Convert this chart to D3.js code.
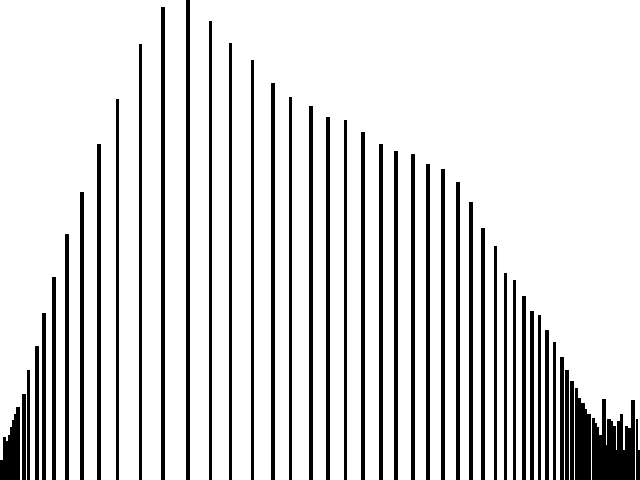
<!DOCTYPE html>
<html>
<head>
<meta charset="utf-8">
<script src="https://cdn.jsdelivr.net/npm/d3@7"></script>
<style>
html,body{margin:0;padding:0;background:#fff;overflow:hidden;}
svg{display:block;}
</style>
</head>
<body>
<svg id="chart" width="640" height="480"></svg>
<script>
// bar start positions (x units)
const positions = [0,3,6,8,10,12,14,16,22,26.5,35,42,52,65,80,97,115.5,138.5,161,186,208.5,228.5,250.5,271,288.5,309,326,343.5,361,379,394,411,426,441,456,469,481,493.5,503.5,512.5,522,530,537.5,545,552.5,560,565,570,575,578,581,585,587,592,595,597,599,602,606,607,611,613,616,617,620,623,625,628,631,636,638];
// bar values
const values = [20,43,39,45,53,60,66,73,86,110,134,167,203,246,288,336,381,436,473,480,459,437,420,397,383,374,363,360,348,336,329,326,316,311,298,278,252,234,207,200,184,169,165,150,138,123,110,99,92,82,77,71,66,62,57,53,45,81,35,61,59,54,30,59,66,30,54,52,80,61,30];

const W = 640, H = 480, maxBarWidth = 3.5;
const x = d3.scaleLinear().domain([0, 640]).range([0, W]);
const y = d3.scaleLinear().domain([0, 480]).range([H, 0]);

const data = positions.map((p, i) => ({
  x0: p,
  x1: Math.min(p + maxBarWidth, i < positions.length - 1 ? positions[i + 1] : p + maxBarWidth),
  v: values[i]
}));

d3.select("#chart").append("g")
  .selectAll("rect")
  .data(data)
  .join("rect")
  .attr("x", d => x(d.x0))
  .attr("width", d => x(d.x1) - x(d.x0))
  .attr("y", d => y(d.v))
  .attr("height", d => y(0) - y(d.v))
  .attr("fill", "#000")
  .attr("shape-rendering", "crispEdges");
</script>
</body>
</html>
